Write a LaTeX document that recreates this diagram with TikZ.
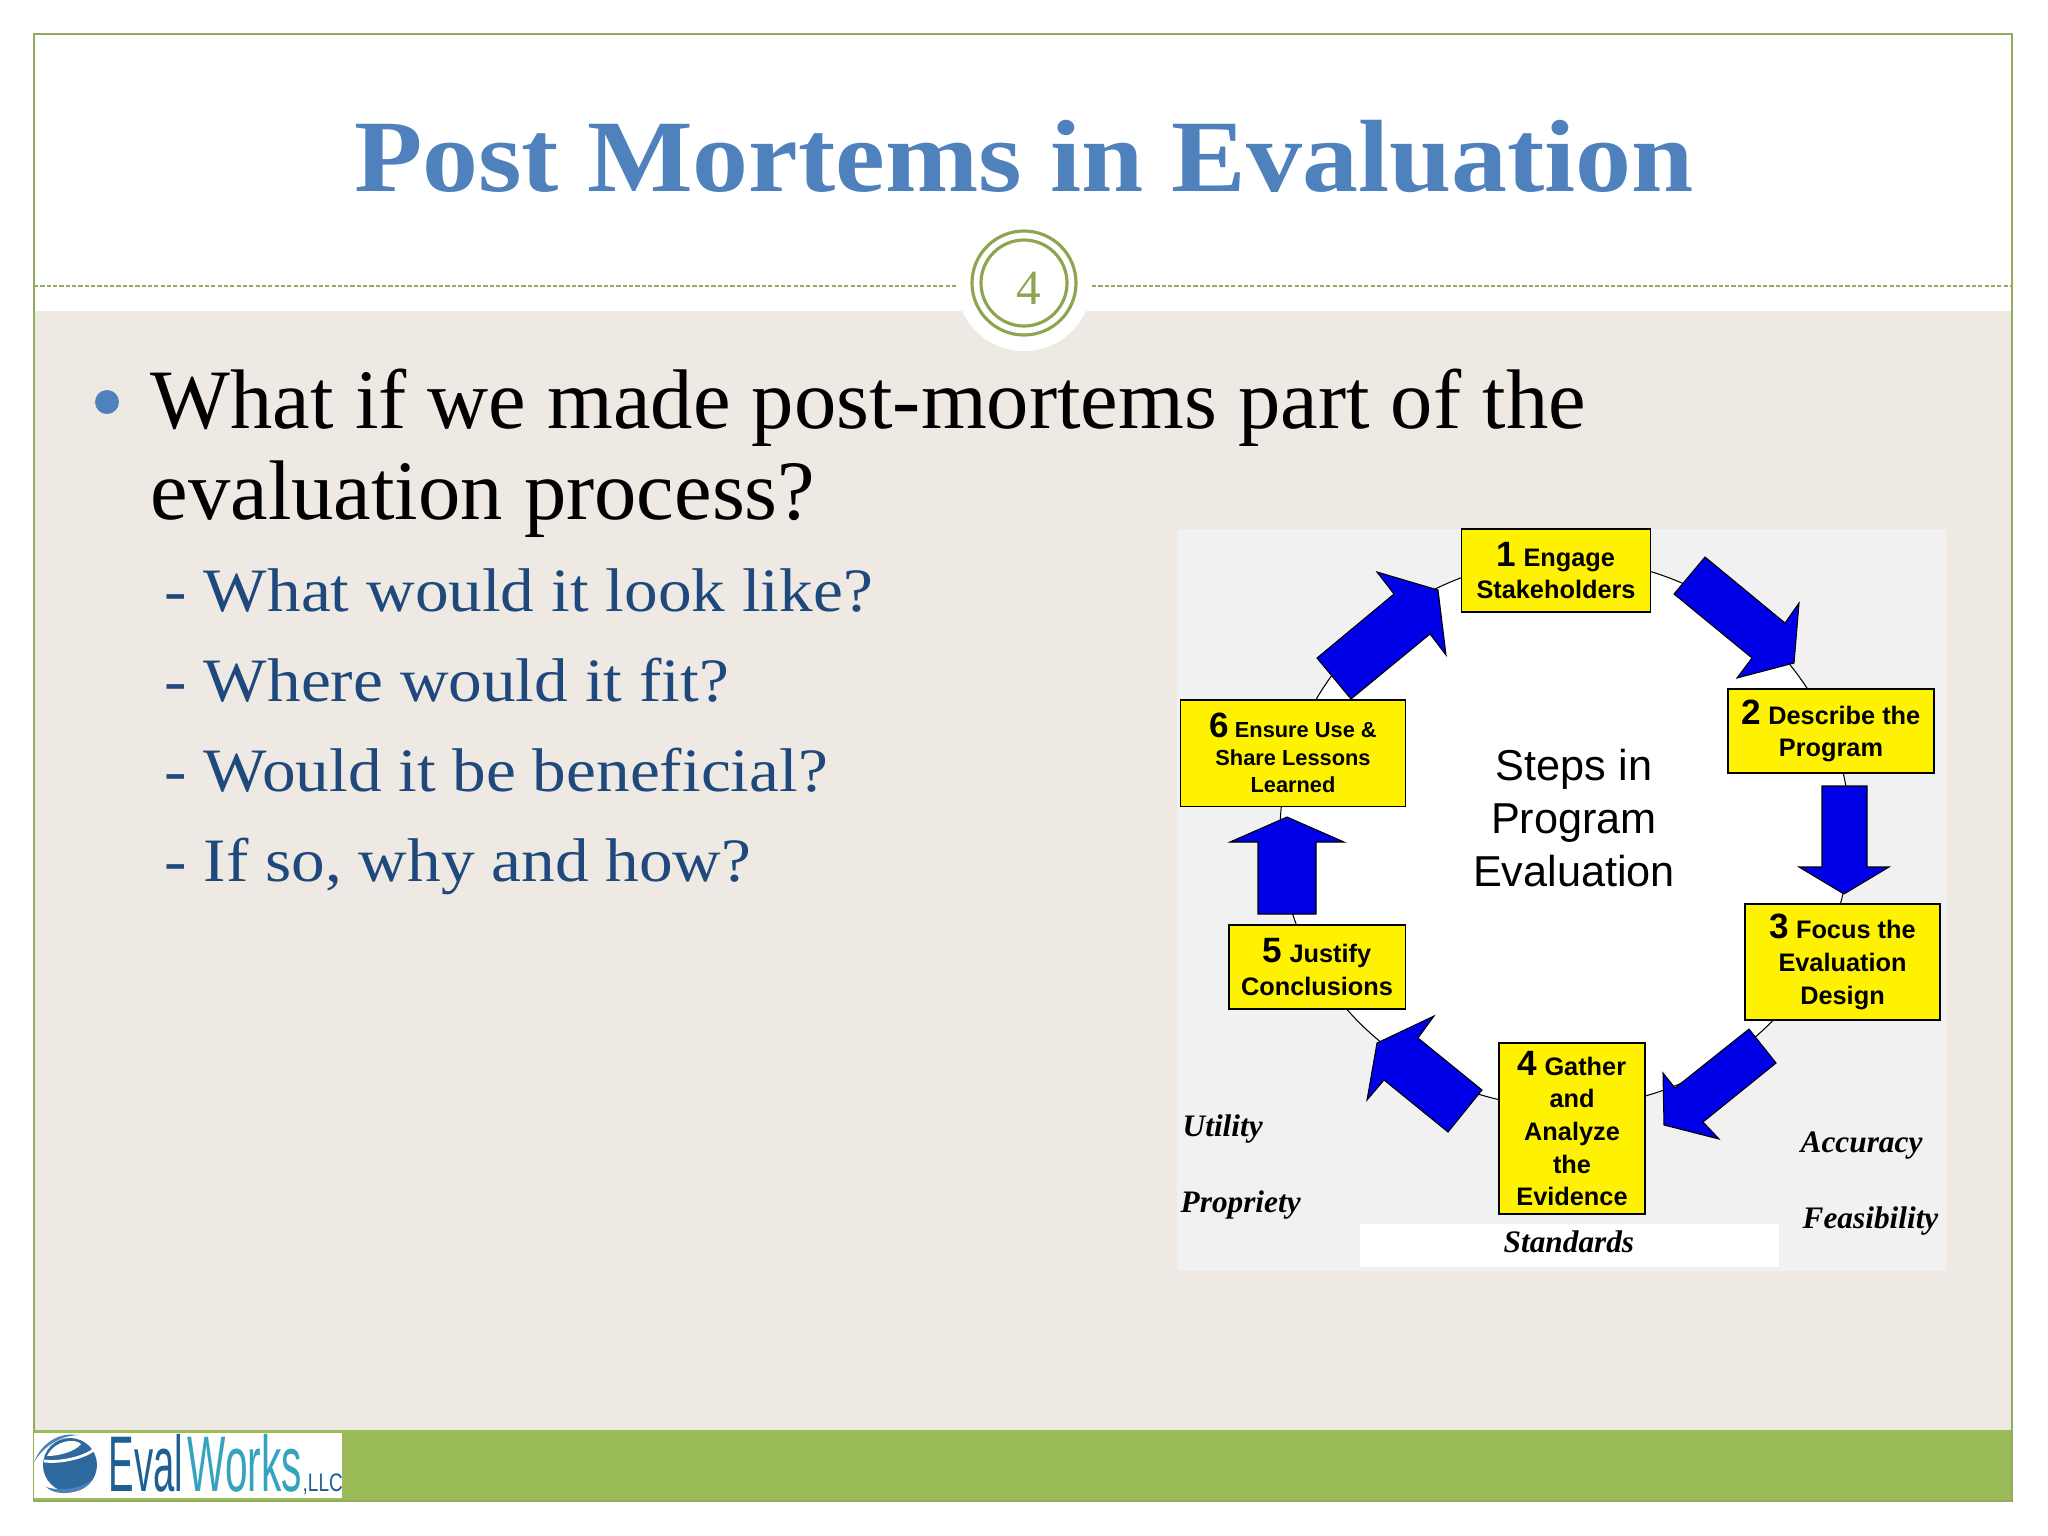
\documentclass[tikz,border=0pt]{standalone}
\usepackage{graphicx}
\usepackage{fontspec}
\setmainfont{Liberation Serif}
\setsansfont{Liberation Sans}
\newfontfamily\wideserif[FakeStretch=1.09]{Liberation Serif}
\usetikzlibrary{positioning}
\definecolor{titleblue}{HTML}{4F81BD}
\definecolor{subblue}{HTML}{1F497D}
\definecolor{paper}{HTML}{EEEAE3}
\definecolor{olive}{HTML}{9BBB59}
\definecolor{frameolive}{HTML}{93AB5C}
\definecolor{ringolive}{HTML}{8CA54E}
\definecolor{hatch}{HTML}{F1F1F1}
\definecolor{stepblue}{HTML}{0000E6}
\definecolor{logoblue}{HTML}{1F5F92}
\definecolor{logoteal}{HTML}{35A3BD}
\newcommand{\stepnum}[1]{{\fontsize{10}{9}\selectfont #1}}

\begin{document}
\begin{tikzpicture}[x=0.01cm,y=-0.01cm,
	stepbox/.style={draw=black,line width=0.45pt,fill=yellow,align=center,inner sep=0pt,font=\sffamily\bfseries\fontsize{7.2}{9.3}\selectfont},
	blockarrow/.style={draw=black,line width=0.3pt,fill=stepblue},
	quality/.style={anchor=base west,inner sep=0pt,font=\itshape\bfseries\fontsize{8.9}{10}\selectfont},
	bodyline/.style={anchor=base west,inner sep=0pt,font=\fontsize{24.05}{28}\selectfont},
	subline/.style={anchor=base west,inner sep=0pt,text=subblue,font=\wideserif\fontsize{17.55}{21}\selectfont}]
		\useasboundingbox (0,0) rectangle (2048,1536);
		\fill[white] (0,0) rectangle (2048,1536);
		% slide
		\fill[paper] (34,311) rectangle (2012,1430);
		\fill[olive] (34,1430) rectangle (2012,1501);
		\draw[frameolive,line width=0.6pt] (34,34) rectangle (2012,1501);
		\draw[frameolive,line width=0.4pt,dash pattern=on 1.2pt off 0.6pt] (34,286) -- (956,286);
		\draw[frameolive,line width=0.4pt,dash pattern=on 1.2pt off 0.6pt] (1092,286) -- (2012,286);
		\fill[white] (1024,283) circle (68);
		\draw[ringolive,line width=0.9pt] (1024,283) circle (52);
		\draw[ringolive,line width=0.9pt] (1024,283) circle (43);
		\node[text=ringolive,inner sep=0pt,font=\fontsize{14}{16}\selectfont] (pagenum) at (1029,288) {4};
		\node[text=titleblue,inner sep=0pt,anchor=base,font=\wideserif\bfseries\fontsize{29.2}{34}\selectfont] (title) at (1024,191) {Post Mortems in Evaluation};
		% text
		\fill[titleblue] (107,402) circle (12);
		\node[bodyline] (bodya) at (150,428) {What if we made post-mortems part of the};
		\node[bodyline] (bodyb) at (150,519) {evaluation process?};
		\node[subline] (suba) at (164,611) {- What would it look like?};
		\node[subline] (subb) at (164,701) {- Where would it fit?};
		\node[subline] (subc) at (164,791) {- Would it be beneficial?};
		\node[subline] (subd) at (164,881) {- If so, why and how?};
		% steps picture
		\fill[hatch] (1177,529) rectangle (1946,1271);
		\filldraw[fill=white,draw=black,line width=0.3pt] (1565,833) ellipse (285 and 274);
		\fill[white] (1360,1224) rectangle (1779,1266.5);
		\node[stepbox,minimum width=1.89cm,minimum height=0.83cm] (engage) at (1556,570.5) {\stepnum{1} Engage\\Stakeholders};
		\node[stepbox,minimum width=2.06cm,minimum height=0.845cm] (describe) at (1831,731) {\stepnum{2} Describe the\\Program};
		\node[stepbox,minimum width=1.95cm,minimum height=1.16cm] (focus) at (1842.5,962) {\stepnum{3} Focus the\\Evaluation\\Design};
		\node[stepbox,minimum width=1.46cm,minimum height=1.705cm] (gather) at (1572,1128.5) {\stepnum{4} Gather\\and\\Analyze\\the\\Evidence};
		\node[stepbox,minimum width=1.765cm,minimum height=0.84cm] (justify) at (1317,967) {\stepnum{5} Justify\\Conclusions};
		\node[stepbox,minimum width=2.245cm,minimum height=1.065cm,font=\sffamily\bfseries\fontsize{6.2}{7.9}\selectfont] (ensure) at (1293,753) {\stepnum{6} Ensure Use \&\\Share Lessons\\Learned};
		\filldraw[blockarrow] (1705,557) -- (1785,623) -- (1799,603) -- (1794,663) -- (1737,678) -- (1752,658) -- (1674,594) -- cycle;
		\filldraw[blockarrow] (1822,786) -- (1867,786) -- (1867,867) -- (1889,867) -- (1844,894) -- (1799,867) -- (1822,867) -- cycle;
		\filldraw[blockarrow] (1749,1029) -- (1776,1063) -- (1703,1122) -- (1719,1139) -- (1664,1125) -- (1663,1073) -- (1675,1088) -- cycle;
		\filldraw[blockarrow] (1482,1090) -- (1448,1132) -- (1384,1080) -- (1367,1100) -- (1377,1043) -- (1434,1016) -- (1418,1038) -- cycle;
		\filldraw[blockarrow] (1258,914) -- (1316,914) -- (1316,842) -- (1344,842) -- (1287,817) -- (1230,842) -- (1258,842) -- cycle;
		\filldraw[blockarrow] (1317,658) -- (1351,699) -- (1430,634) -- (1446,655) -- (1438,590) -- (1377,572) -- (1394,594) -- cycle;
		\node[inner sep=0pt,align=center,font=\sffamily\fontsize{12.3}{15.1}\selectfont] (steps) at (1574,818) {Steps in\\Program\\Evaluation};
		\node[quality] (utility) at (1182,1136) {Utility};
		\node[quality] (propriety) at (1180,1212) {Propriety};
		\node[quality] (accuracy) at (1800,1152) {Accuracy};
		\node[quality] (feasibility) at (1802,1228) {Feasibility};
		\node[quality] (standards) at (1503,1252) {Standards};
		% logo
		\fill[white] (34,1433) rectangle (342,1498);
		\fill[logoblue!70!titleblue] (70,1465) circle (27);
		\draw[white,line width=0.8pt] (44,1461) .. controls (60,1463) and (85,1458) .. (96,1448);
		\fill[white] (47,1456) .. controls (55,1440) and (75,1438) .. (81,1444) .. controls (75,1452) and (58,1456) .. (47,1456);
		\fill[titleblue] (34,1462) .. controls (42,1442) and (60,1432) .. (78,1435) .. controls (60,1436) and (44,1446) .. (34,1462);
		\fill[titleblue] (46,1487) .. controls (62,1492) and (82,1488) .. (92,1480) .. controls (84,1493) and (58,1498) .. (46,1487);
		\node[inner sep=0pt,anchor=base west,text=logoblue] (logoeval) at (108,1491) {\scalebox{0.66}[1.36]{\sffamily\fontsize{16.5}{18}\selectfont Eval}};
		\node[inner sep=0pt,anchor=base west,text=logoteal] (logoworks) at (187,1491) {\scalebox{0.7}[1.36]{\sffamily\fontsize{16.5}{18}\selectfont Works}};
		\node[inner sep=0pt,anchor=base west,text=logoblue] (logollc) at (302,1491) {\scalebox{0.75}[1]{\sffamily\fontsize{7.2}{8}\selectfont ,LLC}};
	\end{tikzpicture}
\end{document}
